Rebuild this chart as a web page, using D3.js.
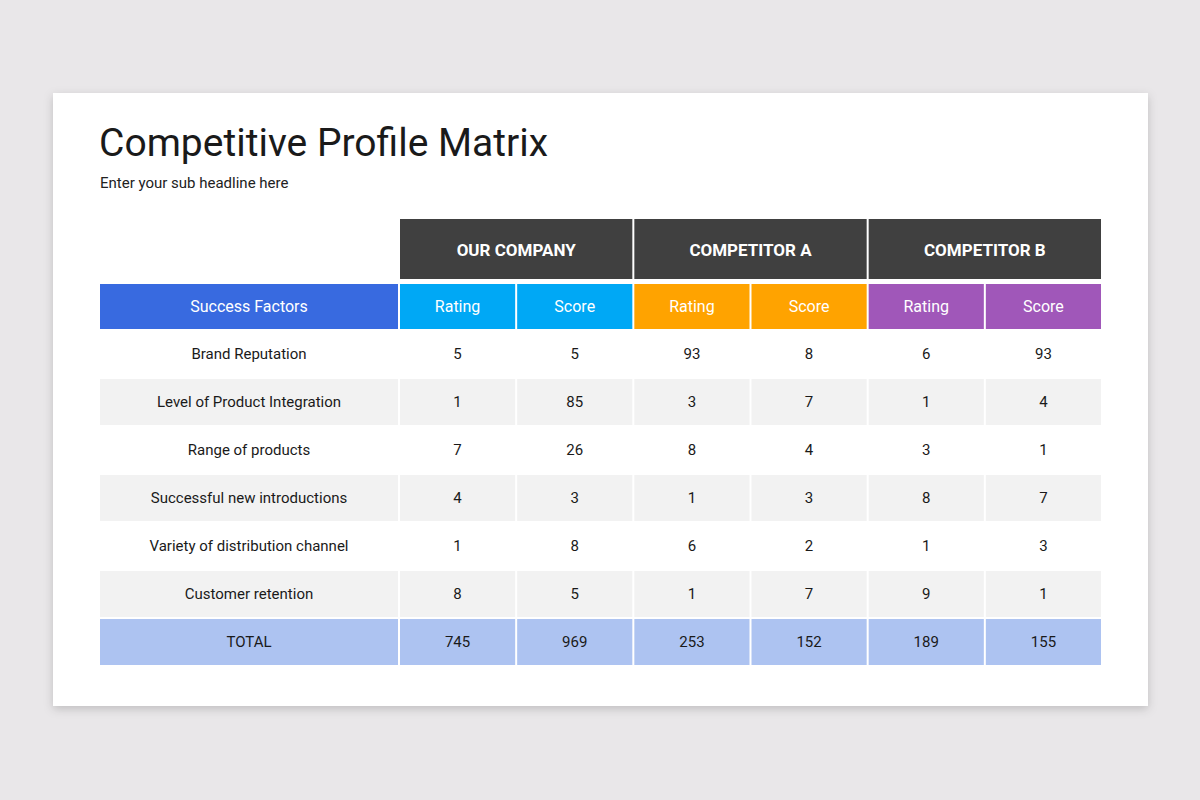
<!DOCTYPE html>
<html><head><meta charset="utf-8">
<script src="https://cdn.jsdelivr.net/npm/d3@7"></script>
<style>body{margin:0;background:#e9e7e9;font-family:Roboto,sans-serif}</style>
</head><body>
<svg id="c" width="1200" height="800"></svg>
<script>
const groups = ["OUR COMPANY","COMPETITOR A","COMPETITOR B"];
const groupColors = ["#00a8f5","#ffa300","#a057b9"];
const subHeads = ["Rating","Score"];
const factors = ["Brand Reputation","Level of Product Integration","Range of products","Successful  new introductions","Variety of distribution channel","Customer retention"];
const values = [
 [5,5,93,8,6,93],
 [1,85,3,7,1,4],
 [7,26,8,4,3,1],
 [4,3,1,3,8,7],
 [1,8,6,2,1,3],
 [8,5,1,7,9,1]
];
const totals = [745,969,253,152,189,155];

const svg = d3.select("#c");
const defs = svg.append("defs");
const f = defs.append("filter").attr("id","sh").attr("x","-10%").attr("y","-10%").attr("width","120%").attr("height","130%");
f.append("feDropShadow").attr("dx",0).attr("dy",3).attr("stdDeviation",5).attr("flood-color","#000").attr("flood-opacity",0.18);
svg.append("rect").attr("x",53).attr("y",93).attr("width",1095).attr("height",613).attr("fill","#fff").attr("filter","url(#sh)");
svg.append("text").attr("x",99).attr("y",156).attr("font-size",39).attr("fill","#1a1a1a").text("Competitive Profile Matrix");
svg.append("text").attr("x",100).attr("y",188).attr("font-size",15).attr("fill","#222").text("Enter your sub headline here");

const colX = d3.scaleBand().domain(d3.range(6)).range([399,1102]);
const labelX0 = 100, labelX1 = 398;
const rowY = d3.scaleBand().domain(d3.range(7)).range([330,666]);
const g = 1;

// group headers
groups.forEach((t,i)=>{
  const x0 = colX(i*2), x1 = colX(i*2+1)+colX.bandwidth();
  svg.append("rect").attr("x",x0+g).attr("y",219).attr("width",x1-x0-2*g).attr("height",60).attr("fill","#404040");
  svg.append("text").attr("x",(x0+x1)/2).attr("y",256).attr("text-anchor","middle").attr("font-size",17).attr("font-weight","bold").attr("fill","#fff").text(t);
});
// sub header
svg.append("rect").attr("x",labelX0).attr("y",284).attr("width",labelX1-labelX0).attr("height",45).attr("fill","#386ae0");
svg.append("text").attr("x",(labelX0+labelX1)/2).attr("y",312).attr("text-anchor","middle").attr("font-size",16).attr("fill","#fff").text("Success Factors");
d3.range(6).forEach(j=>{
  svg.append("rect").attr("x",colX(j)+g).attr("y",284).attr("width",colX.bandwidth()-2*g).attr("height",45).attr("fill",groupColors[Math.floor(j/2)]);
  svg.append("text").attr("x",colX(j)+colX.bandwidth()/2).attr("y",312).attr("text-anchor","middle").attr("font-size",16).attr("fill","#fff").text(subHeads[j%2]);
});
const rows = factors.map((fct,i)=>({label:fct,vals:values[i],fill:i%2?"#f2f2f2":"#ffffff"}));
rows.push({label:"TOTAL",vals:totals,fill:"#adc3f1"});
rows.forEach((r,i)=>{
  const y = rowY(i), h = rowY.bandwidth();
  svg.append("rect").attr("x",labelX0).attr("y",y+g).attr("width",labelX1-labelX0).attr("height",h-2*g).attr("fill",r.fill);
  svg.append("text").attr("x",(labelX0+labelX1)/2).attr("y",y+h/2+5).attr("text-anchor","middle").attr("font-size",15).attr("fill","#1a1a1a").text(r.label);
  r.vals.forEach((v,j)=>{
    svg.append("rect").attr("x",colX(j)+g).attr("y",y+g).attr("width",colX.bandwidth()-2*g).attr("height",h-2*g).attr("fill",r.fill);
    svg.append("text").attr("x",colX(j)+colX.bandwidth()/2).attr("y",y+h/2+5).attr("text-anchor","middle").attr("font-size",15).attr("fill","#1a1a1a").text(v);
  });
});
</script></body></html>
